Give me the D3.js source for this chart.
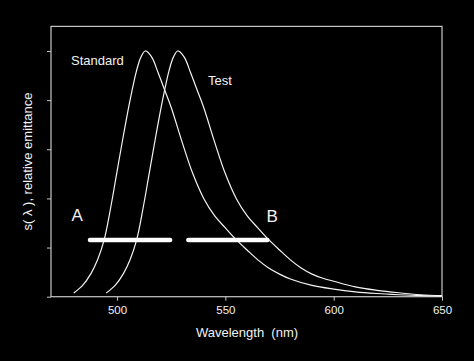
<!DOCTYPE html>
<html>
<head>
<meta charset="utf-8">
<script src="https://cdn.jsdelivr.net/npm/d3@7"></script>
<style>
  html, body { margin: 0; padding: 0; background: #000; }
  svg { display: block; }
  text { font-family: "Liberation Sans", Arial, sans-serif; fill: #f2f2f2; }
</style>
</head>
<body>
<svg id="chart" width="474" height="361"></svg>
<script>
// ---- Data ----
const standardNm  = [480, 484, 488, 491, 494, 497, 500, 503, 506, 509, 511, 513, 516, 519, 522, 525, 530, 535, 540, 545, 550, 555, 560, 565, 570, 575, 580, 590, 600, 610, 620, 630, 640, 650];
const standardVal = [0.015, 0.045, 0.095, 0.15, 0.23, 0.36, 0.51, 0.66, 0.8, 0.92, 0.975, 1.0, 0.975, 0.91, 0.84, 0.77, 0.63, 0.5, 0.4, 0.33, 0.28, 0.232, 0.19, 0.15, 0.117, 0.092, 0.072, 0.046, 0.031, 0.02, 0.013, 0.008, 0.004, 0.002];
const testNm      = [495, 499, 503, 506, 509, 512, 515, 518, 521, 524, 526, 528, 531, 534, 537, 540, 545, 550, 555, 560, 565, 570, 575, 580, 585, 590, 595, 600, 610, 620, 630, 640, 650];
const testVal     = [0.015, 0.045, 0.095, 0.15, 0.23, 0.36, 0.51, 0.66, 0.8, 0.92, 0.975, 1.0, 0.975, 0.91, 0.84, 0.77, 0.63, 0.5, 0.4, 0.33, 0.28, 0.232, 0.19, 0.15, 0.117, 0.092, 0.075, 0.063, 0.04, 0.026, 0.016, 0.008, 0.004];
const barNames  = ["A", "B"];
const barStart  = [487.5, 532.9];
const barEnd    = [524.5, 569.4];
const barLevel  = [0.231, 0.231];
const curveNames = ["Standard", "Test"];
const xTicks = [500, 550, 600, 650];
const yTicks = [0, 0.2, 0.4, 0.6, 0.8, 1.0];

// ---- Layout ----
const svg = d3.select("#chart");
const mLeft = 51, mRight = 442, mTop = 26.4, mBottom = 296.7;
const x = d3.scaleLinear().domain([469.5, 650]).range([mLeft, mRight]);
const y = d3.scaleLinear().domain([0, 1.1]).range([mBottom, mTop]);

const axisColor = "#c8c8c8";

// frame
svg.append("rect")
  .attr("x", mLeft).attr("y", mTop)
  .attr("width", mRight - mLeft).attr("height", mBottom - mTop)
  .attr("fill", "none").attr("stroke", axisColor).attr("stroke-width", 1.2);

// x axis
const gx = svg.append("g").attr("transform", `translate(0,${mBottom})`)
  .call(d3.axisBottom(x).tickValues(xTicks).tickSize(4).tickPadding(5).tickFormat(d3.format("d")));
gx.select(".domain").remove();
gx.selectAll("line").attr("stroke", axisColor);
gx.selectAll("text").attr("font-size", 11.5).attr("fill", "#eee")
  .attr("font-family", "Liberation Sans, Arial, sans-serif");

// y axis (ticks only)
const gy = svg.append("g").attr("transform", `translate(${mLeft},0)`)
  .call(d3.axisLeft(y).tickValues(yTicks).tickSize(4).tickFormat(""));
gy.select(".domain").remove();
gy.selectAll("line").attr("stroke", axisColor);

// curves
const line = d3.line().x(d => x(d[0])).y(d => y(d[1])).curve(d3.curveCatmullRom.alpha(0.5));
const stdPts = standardNm.map((n, i) => [n, standardVal[i]]);
const testPts = testNm.map((n, i) => [n, testVal[i]]);
[stdPts, testPts].forEach(pts => {
  svg.append("path").datum(pts)
    .attr("d", line)
    .attr("fill", "none").attr("stroke", "#f4f4f4").attr("stroke-width", 1.2);
});

// bars
barNames.forEach((nm, i) => {
  svg.append("line")
    .attr("x1", x(barStart[i])).attr("x2", x(barEnd[i]))
    .attr("y1", y(barLevel[i])).attr("y2", y(barLevel[i]))
    .attr("stroke", "#fff").attr("stroke-width", 4.5).attr("stroke-linecap", "round");
});

// annotation labels
svg.append("text").attr("x", 71).attr("y", 65).attr("font-size", 13).text(curveNames[0]);
svg.append("text").attr("x", 208).attr("y", 85).attr("font-size", 13).text(curveNames[1]);
svg.append("text").attr("x", 71.5).attr("y", 221).attr("font-size", 17).text(barNames[0]);
svg.append("text").attr("x", 266.5).attr("y", 221.5).attr("font-size", 17).text(barNames[1]);

// axis titles
svg.append("text").attr("x", 247).attr("y", 337).attr("text-anchor", "middle")
  .attr("font-size", 13).style("white-space", "pre").text("Wavelength  (nm)");
svg.append("text").attr("transform", "translate(32,161.5) rotate(-90)")
  .attr("text-anchor", "middle").attr("font-size", 13)
  .style("white-space", "pre").text("s( λ ), relative emittance");
</script>
</body>
</html>
